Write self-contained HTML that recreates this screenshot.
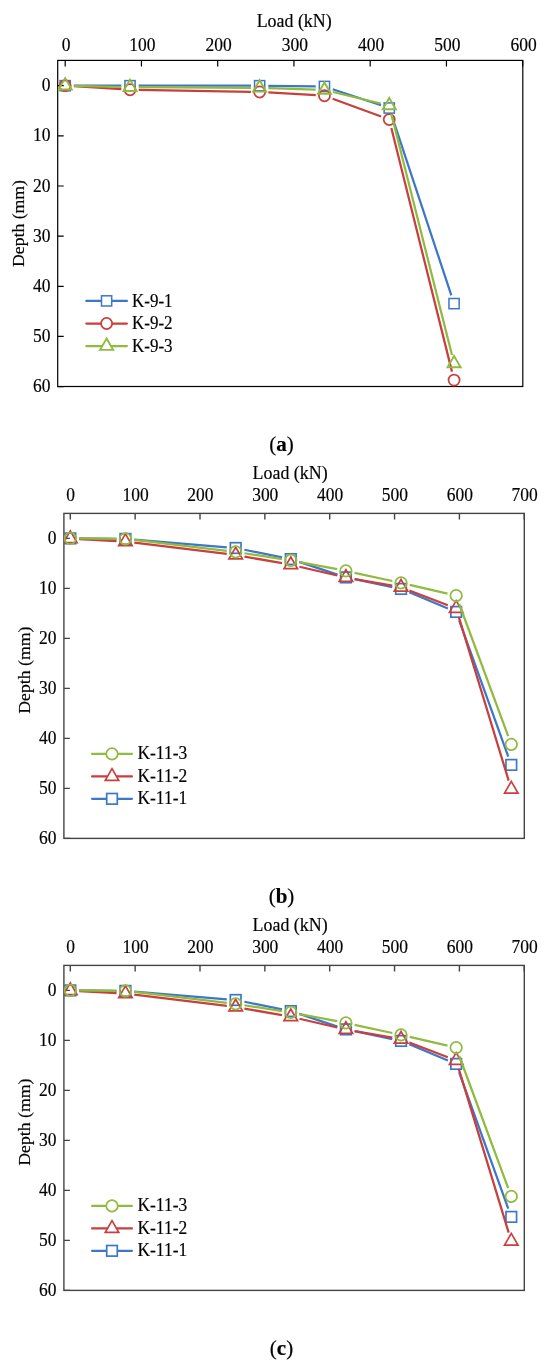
<!DOCTYPE html><html><head><meta charset="utf-8"><title>Figure</title>
<style>html,body{margin:0;padding:0;background:#fff}svg{display:block}text{font-family:"Liberation Serif", serif;fill:#000;stroke:#000;stroke-width:0.18px}</style></head><body>
<svg width="550" height="1368" viewBox="0 0 550 1368">
<rect width="550" height="1368" fill="#fff"/>
<clipPath id="cpa"><rect x="57.7" y="60.4" width="465.09999999999997" height="326.70000000000005"/></clipPath>
<rect x="57.7" y="60.4" width="465.10" height="326.10" fill="none" stroke="#000" stroke-width="1.2"/>
<path d="M65.20 60.4v6M141.45 60.4v6M217.70 60.4v6M293.95 60.4v6M370.20 60.4v6M446.45 60.4v6M522.70 60.4v6M57.7 85.70h6M57.7 135.85h6M57.7 186.00h6M57.7 236.15h6M57.7 286.30h6M57.7 336.45h6M57.7 386.60h6" stroke="#000" stroke-width="1.2" fill="none"/>
<text transform="translate(66.20 51.10) scale(0.945 1)" text-anchor="middle" font-size="18.5">0</text>
<text transform="translate(142.45 51.10) scale(0.945 1)" text-anchor="middle" font-size="18.5">100</text>
<text transform="translate(218.70 51.10) scale(0.945 1)" text-anchor="middle" font-size="18.5">200</text>
<text transform="translate(294.95 51.10) scale(0.945 1)" text-anchor="middle" font-size="18.5">300</text>
<text transform="translate(371.20 51.10) scale(0.945 1)" text-anchor="middle" font-size="18.5">400</text>
<text transform="translate(447.45 51.10) scale(0.945 1)" text-anchor="middle" font-size="18.5">500</text>
<text transform="translate(523.70 51.10) scale(0.945 1)" text-anchor="middle" font-size="18.5">600</text>
<text transform="translate(50.50 91.30) scale(0.945 1)" text-anchor="end" font-size="18.5">0</text>
<text transform="translate(50.50 141.45) scale(0.945 1)" text-anchor="end" font-size="18.5">10</text>
<text transform="translate(50.50 191.60) scale(0.945 1)" text-anchor="end" font-size="18.5">20</text>
<text transform="translate(50.50 241.75) scale(0.945 1)" text-anchor="end" font-size="18.5">30</text>
<text transform="translate(50.50 291.90) scale(0.945 1)" text-anchor="end" font-size="18.5">40</text>
<text transform="translate(50.50 342.05) scale(0.945 1)" text-anchor="end" font-size="18.5">50</text>
<text transform="translate(50.50 392.20) scale(0.945 1)" text-anchor="end" font-size="18.5">60</text>
<text x="294.2" y="27.4" text-anchor="middle" font-size="18.5" textLength="75" lengthAdjust="spacingAndGlyphs">Load (kN)</text>
<text transform="translate(23.8 223.5) rotate(-90)" text-anchor="middle" font-size="16.8" textLength="87" lengthAdjust="spacingAndGlyphs">Depth (mm)</text>
<g clip-path="url(#cpa)">
<path d="M73.90 85.70L121.31 85.70M138.71 85.70L250.94 85.70M268.34 85.80L315.75 86.35M332.71 89.20L381.01 105.27M392.00 116.28L451.34 295.34" stroke="#3d77c7" stroke-width="2.25" fill="none" stroke-linecap="butt"/>
<rect x="60.10" y="80.60" width="10.20" height="10.20" fill="none" stroke="#3d77c7" stroke-width="1.5"/>
<rect x="124.91" y="80.60" width="10.20" height="10.20" fill="none" stroke="#3d77c7" stroke-width="1.5"/>
<rect x="254.54" y="80.60" width="10.20" height="10.20" fill="none" stroke="#3d77c7" stroke-width="1.5"/>
<rect x="319.35" y="81.35" width="10.20" height="10.20" fill="none" stroke="#3d77c7" stroke-width="1.5"/>
<rect x="384.16" y="102.92" width="10.20" height="10.20" fill="none" stroke="#3d77c7" stroke-width="1.5"/>
<rect x="448.97" y="298.50" width="10.20" height="10.20" fill="none" stroke="#3d77c7" stroke-width="1.5"/>
<path d="M73.88 86.24L121.33 89.17M138.71 89.86L250.94 91.82M268.32 92.47L315.76 95.23M332.62 98.73L381.10 116.55M391.36 127.99L451.97 371.64" stroke="#c8403e" stroke-width="2.25" fill="none" stroke-linecap="butt"/>
<circle cx="65.20" cy="85.70" r="5.55" fill="none" stroke="#c8403e" stroke-width="1.75"/>
<circle cx="130.01" cy="89.71" r="5.55" fill="none" stroke="#c8403e" stroke-width="1.75"/>
<circle cx="259.64" cy="91.97" r="5.55" fill="none" stroke="#c8403e" stroke-width="1.75"/>
<circle cx="324.45" cy="95.73" r="5.55" fill="none" stroke="#c8403e" stroke-width="1.75"/>
<circle cx="389.26" cy="119.55" r="5.55" fill="none" stroke="#c8403e" stroke-width="1.75"/>
<circle cx="454.07" cy="380.08" r="5.55" fill="none" stroke="#c8403e" stroke-width="1.75"/>
<path d="M73.90 85.90L121.31 87.00M138.71 87.24L250.94 87.77M268.33 88.10L315.75 89.67M332.91 91.99L380.80 103.48M391.38 113.95L451.96 355.09" stroke="#90bb3f" stroke-width="2.25" fill="none" stroke-linecap="butt"/>
<path d="M65.20 78.14L71.75 89.48L58.65 89.48Z" fill="none" stroke="#90bb3f" stroke-width="1.9" stroke-linejoin="miter"/>
<path d="M130.01 79.64L136.56 90.99L123.46 90.99Z" fill="none" stroke="#90bb3f" stroke-width="1.9" stroke-linejoin="miter"/>
<path d="M259.64 80.24L266.19 91.59L253.09 91.59Z" fill="none" stroke="#90bb3f" stroke-width="1.9" stroke-linejoin="miter"/>
<path d="M324.45 82.40L331.00 93.74L317.90 93.74Z" fill="none" stroke="#90bb3f" stroke-width="1.9" stroke-linejoin="miter"/>
<path d="M389.26 97.95L395.81 109.29L382.71 109.29Z" fill="none" stroke="#90bb3f" stroke-width="1.9" stroke-linejoin="miter"/>
<path d="M454.07 355.97L460.62 367.31L447.52 367.31Z" fill="none" stroke="#90bb3f" stroke-width="1.9" stroke-linejoin="miter"/>
</g>
<path d="M86.3 300.9H126.9" stroke="#3d77c7" stroke-width="2.25" stroke-linecap="round"/>
<rect x="101.50" y="295.80" width="10.20" height="10.20" fill="#fff" stroke="#3d77c7" stroke-width="1.5"/>
<text transform="translate(132.00 306.70) scale(0.935 1)" text-anchor="start" font-size="18.2">K-9-1</text>
<path d="M86.3 323.5H126.9" stroke="#c8403e" stroke-width="2.25" stroke-linecap="round"/>
<circle cx="106.60" cy="323.50" r="5.55" fill="#fff" stroke="#c8403e" stroke-width="1.75"/>
<text transform="translate(132.00 329.30) scale(0.935 1)" text-anchor="start" font-size="18.2">K-9-2</text>
<path d="M86.3 346.1H126.9" stroke="#90bb3f" stroke-width="2.25" stroke-linecap="round"/>
<path d="M106.60 338.54L113.15 349.88L100.05 349.88Z" fill="#fff" stroke="#90bb3f" stroke-width="1.9" stroke-linejoin="miter"/>
<text transform="translate(132.00 351.90) scale(0.935 1)" text-anchor="start" font-size="18.2">K-9-3</text>
<text x="281.5" y="451" text-anchor="middle" font-size="21" stroke="none">(<tspan font-weight="bold">a</tspan>)</text>
<clipPath id="cpb"><rect x="63.9" y="513.4" width="460.4" height="325.6"/></clipPath>
<rect x="63.9" y="513.4" width="460.40" height="325.00" fill="none" stroke="#444" stroke-width="1.4"/>
<path d="M70.30 513.4v6M135.15 513.4v6M200.00 513.4v6M264.85 513.4v6M329.70 513.4v6M394.55 513.4v6M459.40 513.4v6M524.25 513.4v6M63.9 538.40h6M63.9 588.40h6M63.9 638.40h6M63.9 688.40h6M63.9 738.40h6M63.9 788.40h6M63.9 838.40h6" stroke="#444" stroke-width="1.4" fill="none"/>
<text transform="translate(70.70 500.60) scale(0.945 1)" text-anchor="middle" font-size="18.5">0</text>
<text transform="translate(135.55 500.60) scale(0.945 1)" text-anchor="middle" font-size="18.5">100</text>
<text transform="translate(200.40 500.60) scale(0.945 1)" text-anchor="middle" font-size="18.5">200</text>
<text transform="translate(265.25 500.60) scale(0.945 1)" text-anchor="middle" font-size="18.5">300</text>
<text transform="translate(330.10 500.60) scale(0.945 1)" text-anchor="middle" font-size="18.5">400</text>
<text transform="translate(394.95 500.60) scale(0.945 1)" text-anchor="middle" font-size="18.5">500</text>
<text transform="translate(459.80 500.60) scale(0.945 1)" text-anchor="middle" font-size="18.5">600</text>
<text transform="translate(524.65 500.60) scale(0.945 1)" text-anchor="middle" font-size="18.5">700</text>
<text transform="translate(56.50 544.20) scale(0.945 1)" text-anchor="end" font-size="18.5">0</text>
<text transform="translate(56.50 594.20) scale(0.945 1)" text-anchor="end" font-size="18.5">10</text>
<text transform="translate(56.50 644.20) scale(0.945 1)" text-anchor="end" font-size="18.5">20</text>
<text transform="translate(56.50 694.20) scale(0.945 1)" text-anchor="end" font-size="18.5">30</text>
<text transform="translate(56.50 744.20) scale(0.945 1)" text-anchor="end" font-size="18.5">40</text>
<text transform="translate(56.50 794.20) scale(0.945 1)" text-anchor="end" font-size="18.5">50</text>
<text transform="translate(56.50 844.20) scale(0.945 1)" text-anchor="end" font-size="18.5">60</text>
<text x="290.1" y="478.6" text-anchor="middle" font-size="18.5" textLength="75" lengthAdjust="spacingAndGlyphs">Load (kN)</text>
<text transform="translate(29.5 670.2) rotate(-90)" text-anchor="middle" font-size="16.8" textLength="87" lengthAdjust="spacingAndGlyphs">Depth (mm)</text>
<g clip-path="url(#cpb)">
<path d="M79.20 538.48L116.52 538.82M134.29 539.63L226.80 547.27M244.39 549.76L282.07 557.34M299.24 561.90L337.47 574.60M354.62 579.22L392.32 587.08M409.25 592.33L447.94 608.47M459.17 620.27L508.26 756.53" stroke="#3d77c7" stroke-width="2.25" fill="none" stroke-linecap="butt"/>
<rect x="65.00" y="533.10" width="10.60" height="10.60" fill="none" stroke="#3d77c7" stroke-width="1.7"/>
<rect x="120.12" y="533.60" width="10.60" height="10.60" fill="none" stroke="#3d77c7" stroke-width="1.7"/>
<rect x="230.37" y="542.70" width="10.60" height="10.60" fill="none" stroke="#3d77c7" stroke-width="1.7"/>
<rect x="285.49" y="553.80" width="10.60" height="10.60" fill="none" stroke="#3d77c7" stroke-width="1.7"/>
<rect x="340.61" y="572.10" width="10.60" height="10.60" fill="none" stroke="#3d77c7" stroke-width="1.7"/>
<rect x="395.73" y="583.60" width="10.60" height="10.60" fill="none" stroke="#3d77c7" stroke-width="1.7"/>
<rect x="450.86" y="606.60" width="10.60" height="10.60" fill="none" stroke="#3d77c7" stroke-width="1.7"/>
<rect x="505.98" y="759.60" width="10.60" height="10.60" fill="none" stroke="#3d77c7" stroke-width="1.7"/>
<path d="M79.19 539.13L116.54 541.17M134.26 542.72L226.83 553.93M244.43 556.55L282.03 563.20M299.46 566.76L337.24 575.49M354.68 579.05L392.27 585.70M409.34 590.44L447.85 605.21M458.75 616.91L508.68 780.64" stroke="#c8403e" stroke-width="2.25" fill="none" stroke-linecap="butt"/>
<path d="M70.30 530.86L77.05 542.55L63.55 542.55Z" fill="none" stroke="#c8403e" stroke-width="1.7" stroke-linejoin="miter"/>
<path d="M125.42 533.86L132.17 545.55L118.67 545.55Z" fill="none" stroke="#c8403e" stroke-width="1.7" stroke-linejoin="miter"/>
<path d="M235.67 547.21L242.42 558.90L228.92 558.90Z" fill="none" stroke="#c8403e" stroke-width="1.7" stroke-linejoin="miter"/>
<path d="M290.79 556.96L297.54 568.65L284.04 568.65Z" fill="none" stroke="#c8403e" stroke-width="1.7" stroke-linejoin="miter"/>
<path d="M345.91 569.71L352.66 581.40L339.16 581.40Z" fill="none" stroke="#c8403e" stroke-width="1.7" stroke-linejoin="miter"/>
<path d="M401.03 579.46L407.78 591.15L394.28 591.15Z" fill="none" stroke="#c8403e" stroke-width="1.7" stroke-linejoin="miter"/>
<path d="M456.16 600.61L462.91 612.30L449.41 612.30Z" fill="none" stroke="#c8403e" stroke-width="1.7" stroke-linejoin="miter"/>
<path d="M511.28 781.36L518.03 793.05L504.53 793.05Z" fill="none" stroke="#c8403e" stroke-width="1.7" stroke-linejoin="miter"/>
<path d="M79.20 538.48L116.52 538.82M134.26 539.94L226.83 550.86M244.46 553.26L281.99 559.04M299.53 562.07L337.17 569.23M354.61 572.79L392.34 581.01M409.71 584.91L447.49 593.64M459.25 604.00L508.19 736.05" stroke="#90bb3f" stroke-width="2.25" fill="none" stroke-linecap="butt"/>
<circle cx="70.30" cy="538.40" r="5.75" fill="none" stroke="#90bb3f" stroke-width="1.75"/>
<circle cx="125.42" cy="538.90" r="5.75" fill="none" stroke="#90bb3f" stroke-width="1.75"/>
<circle cx="235.67" cy="551.90" r="5.75" fill="none" stroke="#90bb3f" stroke-width="1.75"/>
<circle cx="290.79" cy="560.40" r="5.75" fill="none" stroke="#90bb3f" stroke-width="1.75"/>
<circle cx="345.91" cy="570.90" r="5.75" fill="none" stroke="#90bb3f" stroke-width="1.75"/>
<circle cx="401.03" cy="582.90" r="5.75" fill="none" stroke="#90bb3f" stroke-width="1.75"/>
<circle cx="456.16" cy="595.65" r="5.75" fill="none" stroke="#90bb3f" stroke-width="1.75"/>
<circle cx="511.28" cy="744.40" r="5.75" fill="none" stroke="#90bb3f" stroke-width="1.75"/>
</g>
<path d="M92.1 753.9H131.9" stroke="#90bb3f" stroke-width="2.25" stroke-linecap="round"/>
<circle cx="112.00" cy="753.90" r="5.75" fill="#fff" stroke="#90bb3f" stroke-width="1.75"/>
<text transform="translate(137.40 759.30) scale(0.96 1)" text-anchor="start" font-size="18.2">K-11-3</text>
<path d="M92.1 776.4H131.9" stroke="#c8403e" stroke-width="2.25" stroke-linecap="round"/>
<path d="M112.00 768.61L118.75 780.30L105.25 780.30Z" fill="#fff" stroke="#c8403e" stroke-width="1.7" stroke-linejoin="miter"/>
<text transform="translate(137.40 781.80) scale(0.96 1)" text-anchor="start" font-size="18.2">K-11-2</text>
<path d="M92.1 798.8H131.9" stroke="#3d77c7" stroke-width="2.25" stroke-linecap="round"/>
<rect x="106.70" y="793.50" width="10.60" height="10.60" fill="#fff" stroke="#3d77c7" stroke-width="1.7"/>
<text transform="translate(137.40 804.20) scale(0.96 1)" text-anchor="start" font-size="18.2">K-11-1</text>
<text x="281.5" y="903" text-anchor="middle" font-size="21" stroke="none">(<tspan font-weight="bold">b</tspan>)</text>
<clipPath id="cpc"><rect x="63.9" y="965.4" width="460.4" height="325.60000000000014"/></clipPath>
<rect x="63.9" y="965.4" width="460.40" height="325.00" fill="none" stroke="#444" stroke-width="1.4"/>
<path d="M70.30 965.4v6M135.15 965.4v6M200.00 965.4v6M264.85 965.4v6M329.70 965.4v6M394.55 965.4v6M459.40 965.4v6M524.25 965.4v6M63.9 990.40h6M63.9 1040.40h6M63.9 1090.40h6M63.9 1140.40h6M63.9 1190.40h6M63.9 1240.40h6M63.9 1290.40h6" stroke="#444" stroke-width="1.4" fill="none"/>
<text transform="translate(70.70 952.60) scale(0.945 1)" text-anchor="middle" font-size="18.5">0</text>
<text transform="translate(135.55 952.60) scale(0.945 1)" text-anchor="middle" font-size="18.5">100</text>
<text transform="translate(200.40 952.60) scale(0.945 1)" text-anchor="middle" font-size="18.5">200</text>
<text transform="translate(265.25 952.60) scale(0.945 1)" text-anchor="middle" font-size="18.5">300</text>
<text transform="translate(330.10 952.60) scale(0.945 1)" text-anchor="middle" font-size="18.5">400</text>
<text transform="translate(394.95 952.60) scale(0.945 1)" text-anchor="middle" font-size="18.5">500</text>
<text transform="translate(459.80 952.60) scale(0.945 1)" text-anchor="middle" font-size="18.5">600</text>
<text transform="translate(524.65 952.60) scale(0.945 1)" text-anchor="middle" font-size="18.5">700</text>
<text transform="translate(56.50 996.20) scale(0.945 1)" text-anchor="end" font-size="18.5">0</text>
<text transform="translate(56.50 1046.20) scale(0.945 1)" text-anchor="end" font-size="18.5">10</text>
<text transform="translate(56.50 1096.20) scale(0.945 1)" text-anchor="end" font-size="18.5">20</text>
<text transform="translate(56.50 1146.20) scale(0.945 1)" text-anchor="end" font-size="18.5">30</text>
<text transform="translate(56.50 1196.20) scale(0.945 1)" text-anchor="end" font-size="18.5">40</text>
<text transform="translate(56.50 1246.20) scale(0.945 1)" text-anchor="end" font-size="18.5">50</text>
<text transform="translate(56.50 1296.20) scale(0.945 1)" text-anchor="end" font-size="18.5">60</text>
<text x="290.1" y="930.6" text-anchor="middle" font-size="18.5" textLength="75" lengthAdjust="spacingAndGlyphs">Load (kN)</text>
<text transform="translate(29.5 1122.2) rotate(-90)" text-anchor="middle" font-size="16.8" textLength="87" lengthAdjust="spacingAndGlyphs">Depth (mm)</text>
<g clip-path="url(#cpc)">
<path d="M79.20 990.48L116.52 990.82M134.29 991.63L226.80 999.27M244.39 1001.76L282.07 1009.34M299.24 1013.90L337.47 1026.60M354.62 1031.22L392.32 1039.08M409.25 1044.33L447.94 1060.47M459.17 1072.27L508.26 1208.53" stroke="#3d77c7" stroke-width="2.25" fill="none" stroke-linecap="butt"/>
<rect x="65.00" y="985.10" width="10.60" height="10.60" fill="none" stroke="#3d77c7" stroke-width="1.7"/>
<rect x="120.12" y="985.60" width="10.60" height="10.60" fill="none" stroke="#3d77c7" stroke-width="1.7"/>
<rect x="230.37" y="994.70" width="10.60" height="10.60" fill="none" stroke="#3d77c7" stroke-width="1.7"/>
<rect x="285.49" y="1005.80" width="10.60" height="10.60" fill="none" stroke="#3d77c7" stroke-width="1.7"/>
<rect x="340.61" y="1024.10" width="10.60" height="10.60" fill="none" stroke="#3d77c7" stroke-width="1.7"/>
<rect x="395.73" y="1035.60" width="10.60" height="10.60" fill="none" stroke="#3d77c7" stroke-width="1.7"/>
<rect x="450.86" y="1058.60" width="10.60" height="10.60" fill="none" stroke="#3d77c7" stroke-width="1.7"/>
<rect x="505.98" y="1211.60" width="10.60" height="10.60" fill="none" stroke="#3d77c7" stroke-width="1.7"/>
<path d="M79.19 991.13L116.54 993.17M134.26 994.72L226.83 1005.93M244.43 1008.55L282.03 1015.20M299.46 1018.76L337.24 1027.49M354.68 1031.05L392.27 1037.70M409.34 1042.44L447.85 1057.21M458.75 1068.91L508.68 1232.64" stroke="#c8403e" stroke-width="2.25" fill="none" stroke-linecap="butt"/>
<path d="M70.30 982.86L77.05 994.55L63.55 994.55Z" fill="none" stroke="#c8403e" stroke-width="1.7" stroke-linejoin="miter"/>
<path d="M125.42 985.86L132.17 997.55L118.67 997.55Z" fill="none" stroke="#c8403e" stroke-width="1.7" stroke-linejoin="miter"/>
<path d="M235.67 999.21L242.42 1010.90L228.92 1010.90Z" fill="none" stroke="#c8403e" stroke-width="1.7" stroke-linejoin="miter"/>
<path d="M290.79 1008.96L297.54 1020.65L284.04 1020.65Z" fill="none" stroke="#c8403e" stroke-width="1.7" stroke-linejoin="miter"/>
<path d="M345.91 1021.71L352.66 1033.40L339.16 1033.40Z" fill="none" stroke="#c8403e" stroke-width="1.7" stroke-linejoin="miter"/>
<path d="M401.03 1031.46L407.78 1043.15L394.28 1043.15Z" fill="none" stroke="#c8403e" stroke-width="1.7" stroke-linejoin="miter"/>
<path d="M456.16 1052.61L462.91 1064.30L449.41 1064.30Z" fill="none" stroke="#c8403e" stroke-width="1.7" stroke-linejoin="miter"/>
<path d="M511.28 1233.36L518.03 1245.05L504.53 1245.05Z" fill="none" stroke="#c8403e" stroke-width="1.7" stroke-linejoin="miter"/>
<path d="M79.20 990.48L116.52 990.82M134.26 991.94L226.83 1002.86M244.46 1005.26L281.99 1011.04M299.53 1014.07L337.17 1021.23M354.61 1024.79L392.34 1033.01M409.71 1036.91L447.49 1045.64M459.25 1056.00L508.19 1188.05" stroke="#90bb3f" stroke-width="2.25" fill="none" stroke-linecap="butt"/>
<circle cx="70.30" cy="990.40" r="5.75" fill="none" stroke="#90bb3f" stroke-width="1.75"/>
<circle cx="125.42" cy="990.90" r="5.75" fill="none" stroke="#90bb3f" stroke-width="1.75"/>
<circle cx="235.67" cy="1003.90" r="5.75" fill="none" stroke="#90bb3f" stroke-width="1.75"/>
<circle cx="290.79" cy="1012.40" r="5.75" fill="none" stroke="#90bb3f" stroke-width="1.75"/>
<circle cx="345.91" cy="1022.90" r="5.75" fill="none" stroke="#90bb3f" stroke-width="1.75"/>
<circle cx="401.03" cy="1034.90" r="5.75" fill="none" stroke="#90bb3f" stroke-width="1.75"/>
<circle cx="456.16" cy="1047.65" r="5.75" fill="none" stroke="#90bb3f" stroke-width="1.75"/>
<circle cx="511.28" cy="1196.40" r="5.75" fill="none" stroke="#90bb3f" stroke-width="1.75"/>
</g>
<path d="M92.1 1205.9H131.9" stroke="#90bb3f" stroke-width="2.25" stroke-linecap="round"/>
<circle cx="112.00" cy="1205.90" r="5.75" fill="#fff" stroke="#90bb3f" stroke-width="1.75"/>
<text transform="translate(137.40 1211.30) scale(0.96 1)" text-anchor="start" font-size="18.2">K-11-3</text>
<path d="M92.1 1228.4H131.9" stroke="#c8403e" stroke-width="2.25" stroke-linecap="round"/>
<path d="M112.00 1220.61L118.75 1232.30L105.25 1232.30Z" fill="#fff" stroke="#c8403e" stroke-width="1.7" stroke-linejoin="miter"/>
<text transform="translate(137.40 1233.80) scale(0.96 1)" text-anchor="start" font-size="18.2">K-11-2</text>
<path d="M92.1 1250.8H131.9" stroke="#3d77c7" stroke-width="2.25" stroke-linecap="round"/>
<rect x="106.70" y="1245.50" width="10.60" height="10.60" fill="#fff" stroke="#3d77c7" stroke-width="1.7"/>
<text transform="translate(137.40 1256.20) scale(0.96 1)" text-anchor="start" font-size="18.2">K-11-1</text>
<text x="281.5" y="1355" text-anchor="middle" font-size="21" stroke="none">(<tspan font-weight="bold">c</tspan>)</text>
</svg></body></html>
